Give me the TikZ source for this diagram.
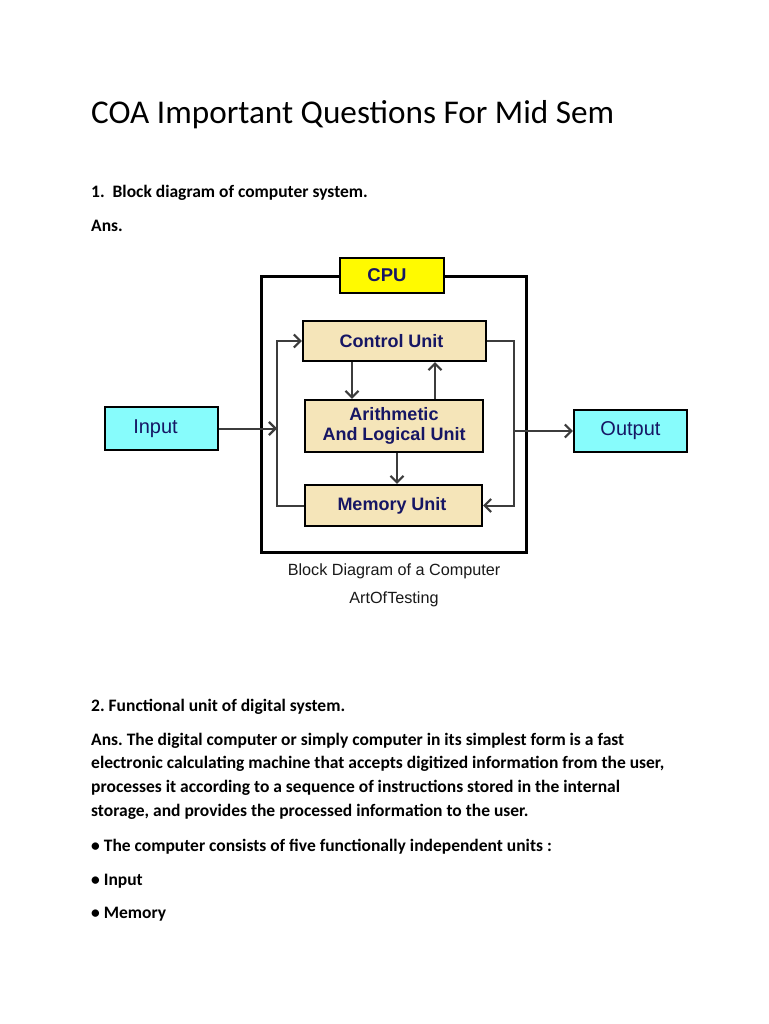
\documentclass[tikz,border=0pt]{standalone}
\usepackage{fontspec}
\setmainfont{Carlito}
\newfontfamily\arialf{Liberation Sans}
\usetikzlibrary{arrows.meta}
\frenchspacing
\definecolor{tanbox}{RGB}{245,229,185}
\definecolor{cpuyellow}{RGB}{255,250,0}
\definecolor{iocyan}{RGB}{135,252,252}
\definecolor{navytext}{RGB}{22,22,100}
\definecolor{linegray}{RGB}{60,60,60}
\tikzset{
  unitbox/.style={draw=black, line width=2.2pt, fill=tanbox, inner sep=0pt, align=center,
    font=\arialf\bfseries\fontsize{18}{20}\selectfont, text=navytext},
  iobox/.style={draw=black, line width=2.2pt, fill=iocyan, inner sep=0pt,
    font=\arialf\fontsize{20}{22}\selectfont, text=navytext, minimum width=113pt},
  cpubox/.style={draw=black, line width=2.5pt, fill=cpuyellow, inner sep=0pt,
    font=\arialf\bfseries\fontsize{18.5}{20}\selectfont, text=navytext},
  flow/.style={draw=linegray, line width=2pt, -{Straight Barb[length=6.5pt,width=13pt,line width=2.2pt]}},
  para/.style={anchor=base west, inner sep=0pt, font=\bfseries\fontsize{17.5}{19}\selectfont},
  caption/.style={anchor=base, inner sep=0pt, font=\arialf\fontsize{16.2}{18}\selectfont, text=black!90}
}
\begin{document}
\begin{tikzpicture}[x=1pt,y=-1pt]
\useasboundingbox[fill=white] (0,0) rectangle (768,1024);
% page text
\node[anchor=base west, inner sep=0pt, font=\fontsize{33.2}{36}\selectfont] (title) at (91,124) {COA Important Questions For Mid Sem};
\node[para] (q1) at (91,198) {1.\ \ Block diagram of computer system.};
\node[para] (a1) at (91,232) {Ans.};
% CPU frame
\node[draw=black, line width=3pt, minimum width=265pt, minimum height=276pt, inner sep=0pt] (frame) at (393.5,414) {};
\node[cpubox, minimum width=104pt, minimum height=35pt] (cpu) at (392,275.5) {CPU\kern10pt};
% units
\node[unitbox, minimum width=183pt, minimum height=40pt] (cu) at (394.5,341) {Control Unit\kern6pt};
\node[unitbox, minimum width=178pt, minimum height=52pt] (alu) at (394,426) {Arithmetic\\And Logical Unit};
\node[unitbox, minimum width=177pt, minimum height=41pt] (mu) at (393.5,505.5) {Memory Unit\kern3pt};
\node[iobox, minimum height=43pt] (inp) at (161.5,428.5) {Input\kern12pt};
\node[iobox, minimum height=42pt] (outp) at (630.5,431) {Output};
% junction coordinates
\coordinate (jl) at (277,428.5);
\coordinate (lx) at (277,341);
\coordinate (rx) at (514,505.5);
\coordinate (jr) at (514,431);
% connectors
\draw[flow] (inp.east) -- (jl);
\draw[flow] (mu.west) -| (lx) -- (cu.west);
\draw[flow] (cu.east) -| (rx) -- (mu.east);
\draw[flow] (jr) -- (outp.west);
\draw[flow] ([xshift=-42.5pt]cu.south) -- ([xshift=-42pt]alu.north);
\draw[flow] ([xshift=41pt]alu.north) -- ([xshift=40.5pt]cu.south);
\draw[flow] ([xshift=3pt]alu.south) -- ([xshift=3.5pt]mu.north);
% captions
\node[caption] (cap1) at (394,575) {Block Diagram of a Computer};
\node[caption] (cap2) at (394,603) {ArtOfTesting};
% lower text
\node[para] (q2) at (91,711) {2. Functional unit of digital system.};
\node[para] (p1) at (91,745) {Ans. The digital computer or simply computer in its simplest form is a fast};
\node[para] (p2) at (91,768.5) {electronic calculating machine that accepts digitized information from the user,};
\node[para] (p3) at (91,792) {processes it according to a sequence of instructions stored in the internal};
\node[para] (p4) at (91,816) {storage, and provides the processed information to the user.};
\node[para] (b1) at (91,851) {\textbullet\ The computer consists of five functionally independent units :};
\node[para] (b2) at (91,885) {\textbullet\ Input};
\node[para] (b3) at (91,918) {\textbullet\ Memory};
\end{tikzpicture}
\end{document}
